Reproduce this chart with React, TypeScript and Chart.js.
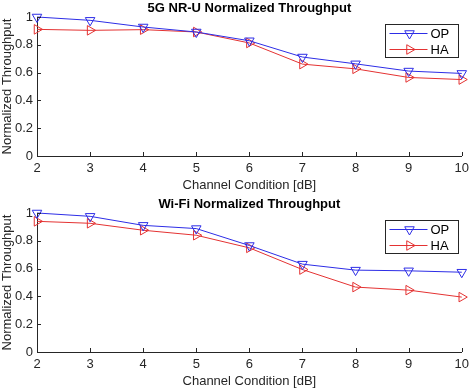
import React, { useEffect, useRef } from "react";
import { Chart, registerables } from "chart.js";

Chart.register(...registerables);

const xValues = [2, 3, 4, 5, 6, 7, 8, 9, 10];
const nruOP = [1.0, 0.976, 0.928, 0.892, 0.829, 0.712, 0.663, 0.611, 0.594];
const nruHA = [0.911, 0.904, 0.909, 0.892, 0.813, 0.661, 0.627, 0.565, 0.55];
const wifiOP = [1.0, 0.976, 0.911, 0.888, 0.766, 0.632, 0.589, 0.584, 0.574];
const wifiHA = [0.94, 0.926, 0.876, 0.84, 0.749, 0.593, 0.467, 0.445, 0.395];
const seriesLabels = ["OP", "HA"];
const titles = ["5G NR-U Normalized Throughput", "Wi-Fi Normalized Throughput"];
const xTitle = "Channel Condition [dB]";
const yTitle = "Normalized Throughput";

const FONT = "'Liberation Sans', Arial, Helvetica, sans-serif";
const FS = 13;
const AXIS = "#262626";
const BLUE = "rgb(45,45,230)";
const RED = "rgb(228,50,50)";

function tri(ctx: CanvasRenderingContext2D, x: number, y: number, r: number, rotDeg: number) {
  let rad = (rotDeg * Math.PI) / 180;
  const t = (2 * Math.PI) / 3;
  ctx.beginPath();
  ctx.moveTo(x + Math.sin(rad) * r, y - Math.cos(rad) * r);
  rad += t;
  ctx.lineTo(x + Math.sin(rad) * r, y - Math.cos(rad) * r);
  rad += t;
  ctx.lineTo(x + Math.sin(rad) * r, y - Math.cos(rad) * r);
  ctx.closePath();
  ctx.stroke();
}

const decorPlugin = {
  id: "decor",
  afterDraw(chart: any) {
    const ctx = chart.ctx as CanvasRenderingContext2D;
    const a = chart.chartArea;
    ctx.save();
    ctx.strokeStyle = AXIS;
    ctx.lineWidth = 1;
    const xs = chart.scales.x;
    const ys = chart.scales.y;
    xs.ticks.forEach((t: any) => {
      const px = Math.round(xs.getPixelForValue(t.value)) + 0.5;
      ctx.beginPath();
      ctx.moveTo(px, a.bottom);
      ctx.lineTo(px, a.bottom - 4);
      ctx.stroke();
    });
    ys.ticks.forEach((t: any) => {
      const py = Math.round(ys.getPixelForValue(t.value)) + 0.5;
      ctx.beginPath();
      ctx.moveTo(a.left, py);
      ctx.lineTo(a.left + 4, py);
      ctx.stroke();
    });
    // legend
    const w = 73;
    const h = 33;
    const x0 = Math.round(a.right - 4 - w) + 0.5;
    const y0 = Math.round(a.top + 7) + 0.5;
    ctx.fillStyle = "#fff";
    ctx.fillRect(x0, y0, w, h);
    ctx.strokeStyle = AXIS;
    ctx.strokeRect(x0, y0, w, h);
    chart.data.datasets.forEach((ds: any, i: number) => {
      const ry = y0 + 9 + i * 16;
      ctx.strokeStyle = ds.borderColor;
      ctx.lineWidth = 1;
      ctx.beginPath();
      ctx.moveTo(x0 + 4, ry);
      ctx.lineTo(x0 + 42, ry);
      ctx.stroke();
      tri(ctx, x0 + 24, ry, ds.pointRadius, ds.pointRotation);
      ctx.fillStyle = "#000";
      ctx.font = `${FS}px ${FONT}`;
      ctx.textBaseline = "middle";
      ctx.textAlign = "left";
      ctx.fillText(ds.label, x0 + 45, ry + 0.5);
    });
    ctx.restore();
  },
};

function Panel({ title, op, ha, top }: { title: string; op: number[]; ha: number[]; top: number }) {
  const ref = useRef<HTMLCanvasElement>(null);
  useEffect(() => {
    if (!ref.current) return;
    const mk = (vals: number[]) => xValues.map((x, i) => ({ x, y: vals[i] }));
    const ds = (label: string, vals: number[], color: string, rot: number) => ({
      label,
      data: mk(vals),
      borderColor: color,
      borderWidth: 1,
      backgroundColor: "rgba(0,0,0,0)",
      pointStyle: "triangle",
      pointRotation: rot,
      pointRadius: 5.5,
      pointBorderWidth: 1,
      pointBorderColor: color,
      pointBackgroundColor: "rgba(0,0,0,0)",
      tension: 0,
      clip: false,
    });
    const chart = new Chart(ref.current, {
      type: "line",
      data: {
        datasets: [ds(seriesLabels[0], op, BLUE, 180), ds(seriesLabels[1], ha, RED, 90)],
      } as any,
      options: {
        animation: false,
        responsive: true,
        maintainAspectRatio: false,
        layout: { padding: { left: 0, right: 9, top: 0, bottom: 0 } },
        plugins: {
          legend: { display: false },
          tooltip: { enabled: false },
          title: {
            display: true,
            text: title,
            fullSize: false,
            color: "#000",
            font: { family: FONT, size: FS, weight: "bold" },
            padding: { top: 0.5, bottom: 0.9 },
          },
        },
        scales: {
          x: {
            type: "linear",
            min: 2,
            max: 10,
            afterFit: (s: any) => {
              s.height = 39;
            },
            ticks: { stepSize: 1, color: AXIS, font: { family: FONT, size: FS }, padding: 5, maxRotation: 0 },
            grid: { display: false, drawTicks: false },
            border: { display: true, color: AXIS, width: 1 },
            title: {
              display: true,
              text: xTitle,
              color: AXIS,
              font: { family: FONT, size: FS },
              padding: { top: 0, bottom: 2 },
            },
          },
          y: {
            min: 0,
            max: 1,
            afterFit: (s: any) => {
              s.width = 37;
            },
            ticks: {
              stepSize: 0.2,
              color: AXIS,
              font: { family: FONT, size: FS },
              padding: 4,
              callback: (v: number) => String(Number(v.toFixed(2))),
            },
            grid: { display: false, drawTicks: false },
            border: { display: true, color: AXIS, width: 1 },
            title: {
              display: true,
              text: yTitle,
              color: AXIS,
              font: { family: FONT, size: FS },
              padding: { top: 0, bottom: 0 },
            },
          },
        },
      } as any,
      plugins: [decorPlugin],
    });
    return () => chart.destroy();
  }, [title, op, ha]);
  return (
    <div style={{ position: "absolute", left: 0, top, width: 474, height: 195 }}>
      <canvas ref={ref} />
    </div>
  );
}

export default function App() {
  return (
    <div style={{ position: "absolute", left: 0, top: 0, width: 474, height: 390, background: "#fff", fontFamily: FONT }}>
      <Panel title={titles[0]} op={nruOP} ha={nruHA} top={0} />
      <Panel title={titles[1]} op={wifiOP} ha={wifiHA} top={196} />
    </div>
  );
}
